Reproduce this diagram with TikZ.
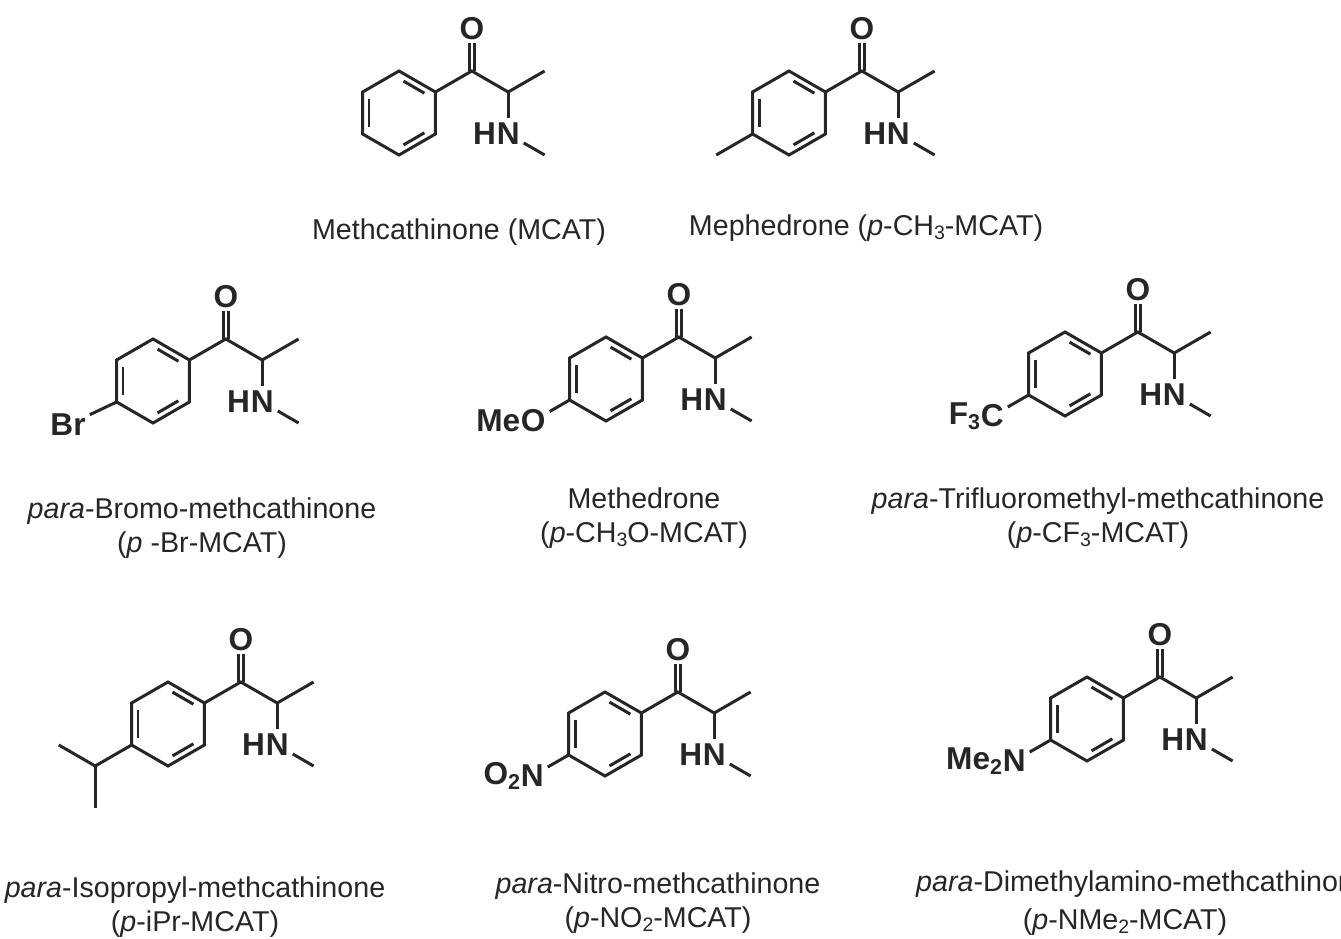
\documentclass[tikz,border=0pt]{standalone}
\usepackage{fontspec}
\setmainfont{Liberation Sans}
\usetikzlibrary{calc}
\newcommand\lsub[1]{\raisebox{-0.3ex}{\fontsize{0.68em}{1em}\selectfont #1}}
\tikzset{
  bond/.style={line width=1.7pt, color=black!85},
  lb/.style={bond, shorten >=2.5pt},
  lbl/.style={font=\fontsize{18}{19}\selectfont\bfseries, inner sep=0pt, text=black!85},
  captxt/.style={font=\fontsize{16.3}{17}\selectfont, text=black!85, align=center}
}
\newcommand\mcat[3]{%
\begin{scope}[shift={(#1,#2)}]
  \draw[bond] (0,-42)--(36.4,-21)--(36.4,21)--(0,42)--(-36.4,21)--(-36.4,-21)--cycle;
  \draw[bond] (-30,-14)--(-30,14);
  \draw[bond] (4.5,-31.9)--(25.4,-19.8);
  \draw[bond] (25.4,19.8)--(4.5,31.9);
  \coordinate (#3c1) at (72.8,-42);
  \coordinate (#3ca) at (109.2,-21);
  \coordinate (#3me) at (145.6,-42);
  \coordinate (#3nme) at (145.6,42);
  \coordinate (#3ll) at (-36.4,21);
  \coordinate (#3p) at (-72.8,42);
  \node[lbl] (#3O) at (72.8,-84) {O};
  \node[lbl] (#3N) at (109.2,21) {N};
  \node[lbl, anchor=east] (#3H) at (#3N.west) {H};
  \draw[bond] (36.4,-21)--(#3c1)--(#3ca)--(#3me);
  \draw[bond] (70.3,-42)--(70.3,-70);
  \draw[bond] (75.3,-42)--(75.3,-70);
  \draw[lb] (#3ca)--(#3N);
  \draw[bond, shorten <=2.5pt] (#3N)--(#3nme);
\end{scope}}
\begin{document}
\begin{tikzpicture}[x=0.02cm,y=-0.02cm]
\useasboundingbox (0,0) rectangle (1341,939);
\clip (0,0) rectangle (1341,939);
% MCAT
\mcat{399}{113}{a}
\node[captxt] (capa) at (459,232) {Methcathinone (MCAT)};
% Mephedrone
\mcat{789}{113}{b}
\draw[bond] (bll)--(bp);
\node[captxt] (capb) at (866,228) {Mephedrone (\textit{p}-CH\lsub{3}-MCAT)};
% Br
\mcat{153}{381}{c}
\node[lbl] (cBr) at (68,425) {Br};
\draw[lb] (cll)--(cBr);
\node[captxt] (capc) at (202,528) {\textit{para}-Bromo-methcathinone\\[2pt](\textit{p} -Br-MCAT)};
% Methedrone
\mcat{606}{379}{d}
\node[lbl] (dO2) at (dp) {O};
\node[lbl, anchor=east] (dMe) at (dO2.west) {Me};
\draw[lb] (dll)--(dO2);
\node[captxt] (capd) at (644,518) {Methedrone\\[2pt](\textit{p}-CH\lsub{3}O-MCAT)};
% CF3
\mcat{1065}{374}{e}
\node[lbl] (eC) at (ep) {C};
\node[lbl, anchor=east] (eF) at (eC.west) {F\lsub{3}};
\draw[lb] (ell)--(eC);
\node[captxt] (cape) at (1098,518) {\textit{para}-Trifluoromethyl-methcathinone\\[2pt](\textit{p}-CF\lsub{3}-MCAT)};
% iPr
\mcat{168}{724}{f}
\coordinate (fa) at ($(fp)+(-36.4,-21)$);
\coordinate (fb) at ($(fp)+(0,42)$);
\draw[bond] (fll)--(fp)--(fa);
\draw[bond] (fp)--(fb);
\node[captxt] (capf) at (195,907) {\textit{para}-Isopropyl-methcathinone\\[2pt](\textit{p}-iPr-MCAT)};
% Nitro
\mcat{605}{734}{g}
\node[lbl] (gN) at (gp) {N};
\node[lbl, anchor=east] (gO) at (gN.west) {O\lsub{2}};
\draw[lb] (gll)--(gN);
\node[captxt] (capg) at (658,903) {\textit{para}-Nitro-methcathinone\\[2pt](\textit{p}-NO\lsub{2}-MCAT)};
% NMe2
\mcat{1087}{719}{h}
\node[lbl] (hN) at (hp) {N};
\node[lbl, anchor=east] (hMe) at (hN.west) {Me\lsub{2}};
\draw[lb] (hll)--(hN);
\node[captxt, anchor=west] (caph) at (910,884) {\textit{para}-Dimethylamino-methcathinone};
\node[captxt] (caph2) at (1125,922) {(\textit{p}-NMe\lsub{2}-MCAT)};
\end{tikzpicture}
\end{document}
